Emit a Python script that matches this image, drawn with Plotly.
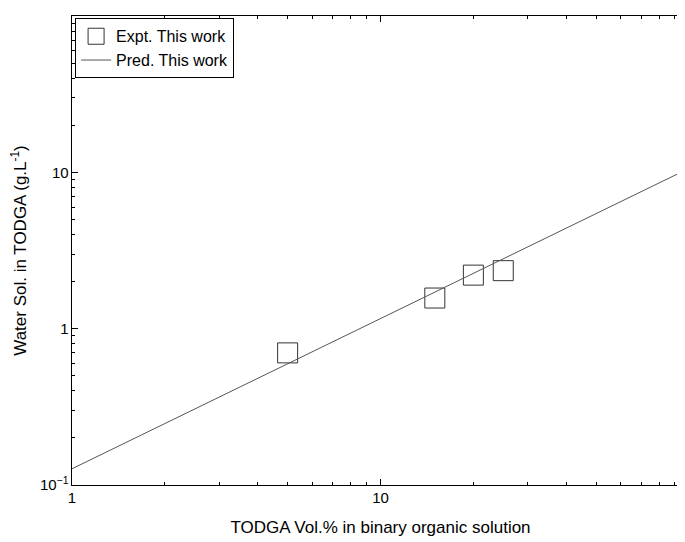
import plotly.graph_objects as go

# experimental points
expt_vol = [5, 15, 20, 25, 100]
expt_sol = [0.70, 1.57, 2.20, 2.35, 12.2]

# predicted line (power law fit endpoints)
pred_vol = [1, 100]
pred_sol = [0.127, 10.6]

fig = go.Figure()

fig.add_trace(go.Scatter(
    x=expt_vol, y=expt_sol, mode='markers', name='Expt. This work', cliponaxis=False,
    marker=dict(symbol='square-open', size=20, color='#333333', line=dict(width=1))
))

fig.add_trace(go.Scatter(
    x=pred_vol, y=pred_sol, mode='lines', name='Pred. This work',
    line=dict(color='#555555', width=1)
))

axis_common = dict(
    type='log', showgrid=False, zeroline=False, mirror='ticks',
    showline=True, linecolor='black', linewidth=1,
    ticks='inside', ticklen=6, tickcolor='black',
    dtick=1, exponentformat='power',
    minor=dict(ticks='inside', ticklen=3, tickcolor='black', showgrid=False),
    tickfont=dict(size=12, color='black'),
)

fig.update_layout(
    width=685, height=542,
    margin=dict(l=64, r=4, t=8, b=65),
    plot_bgcolor='white', paper_bgcolor='white',
    font=dict(family='Liberation Sans, Arial', color='black'),
    showlegend=True,
    legend=dict(x=0.005, y=0.995, xanchor='left', yanchor='top',
                bordercolor='black', borderwidth=1, bgcolor='white',
                font=dict(size=16)),
    xaxis=dict(axis_common, range=[0, 2],
               title=dict(text='TODGA Vol.% in binary organic solution', font=dict(size=17))),
    yaxis=dict(axis_common, range=[-1, 2],
               title=dict(text='Water Sol. in TODGA (g.L<sup>-1</sup>)', font=dict(size=17))),
)

fig.write_html("out.html")
